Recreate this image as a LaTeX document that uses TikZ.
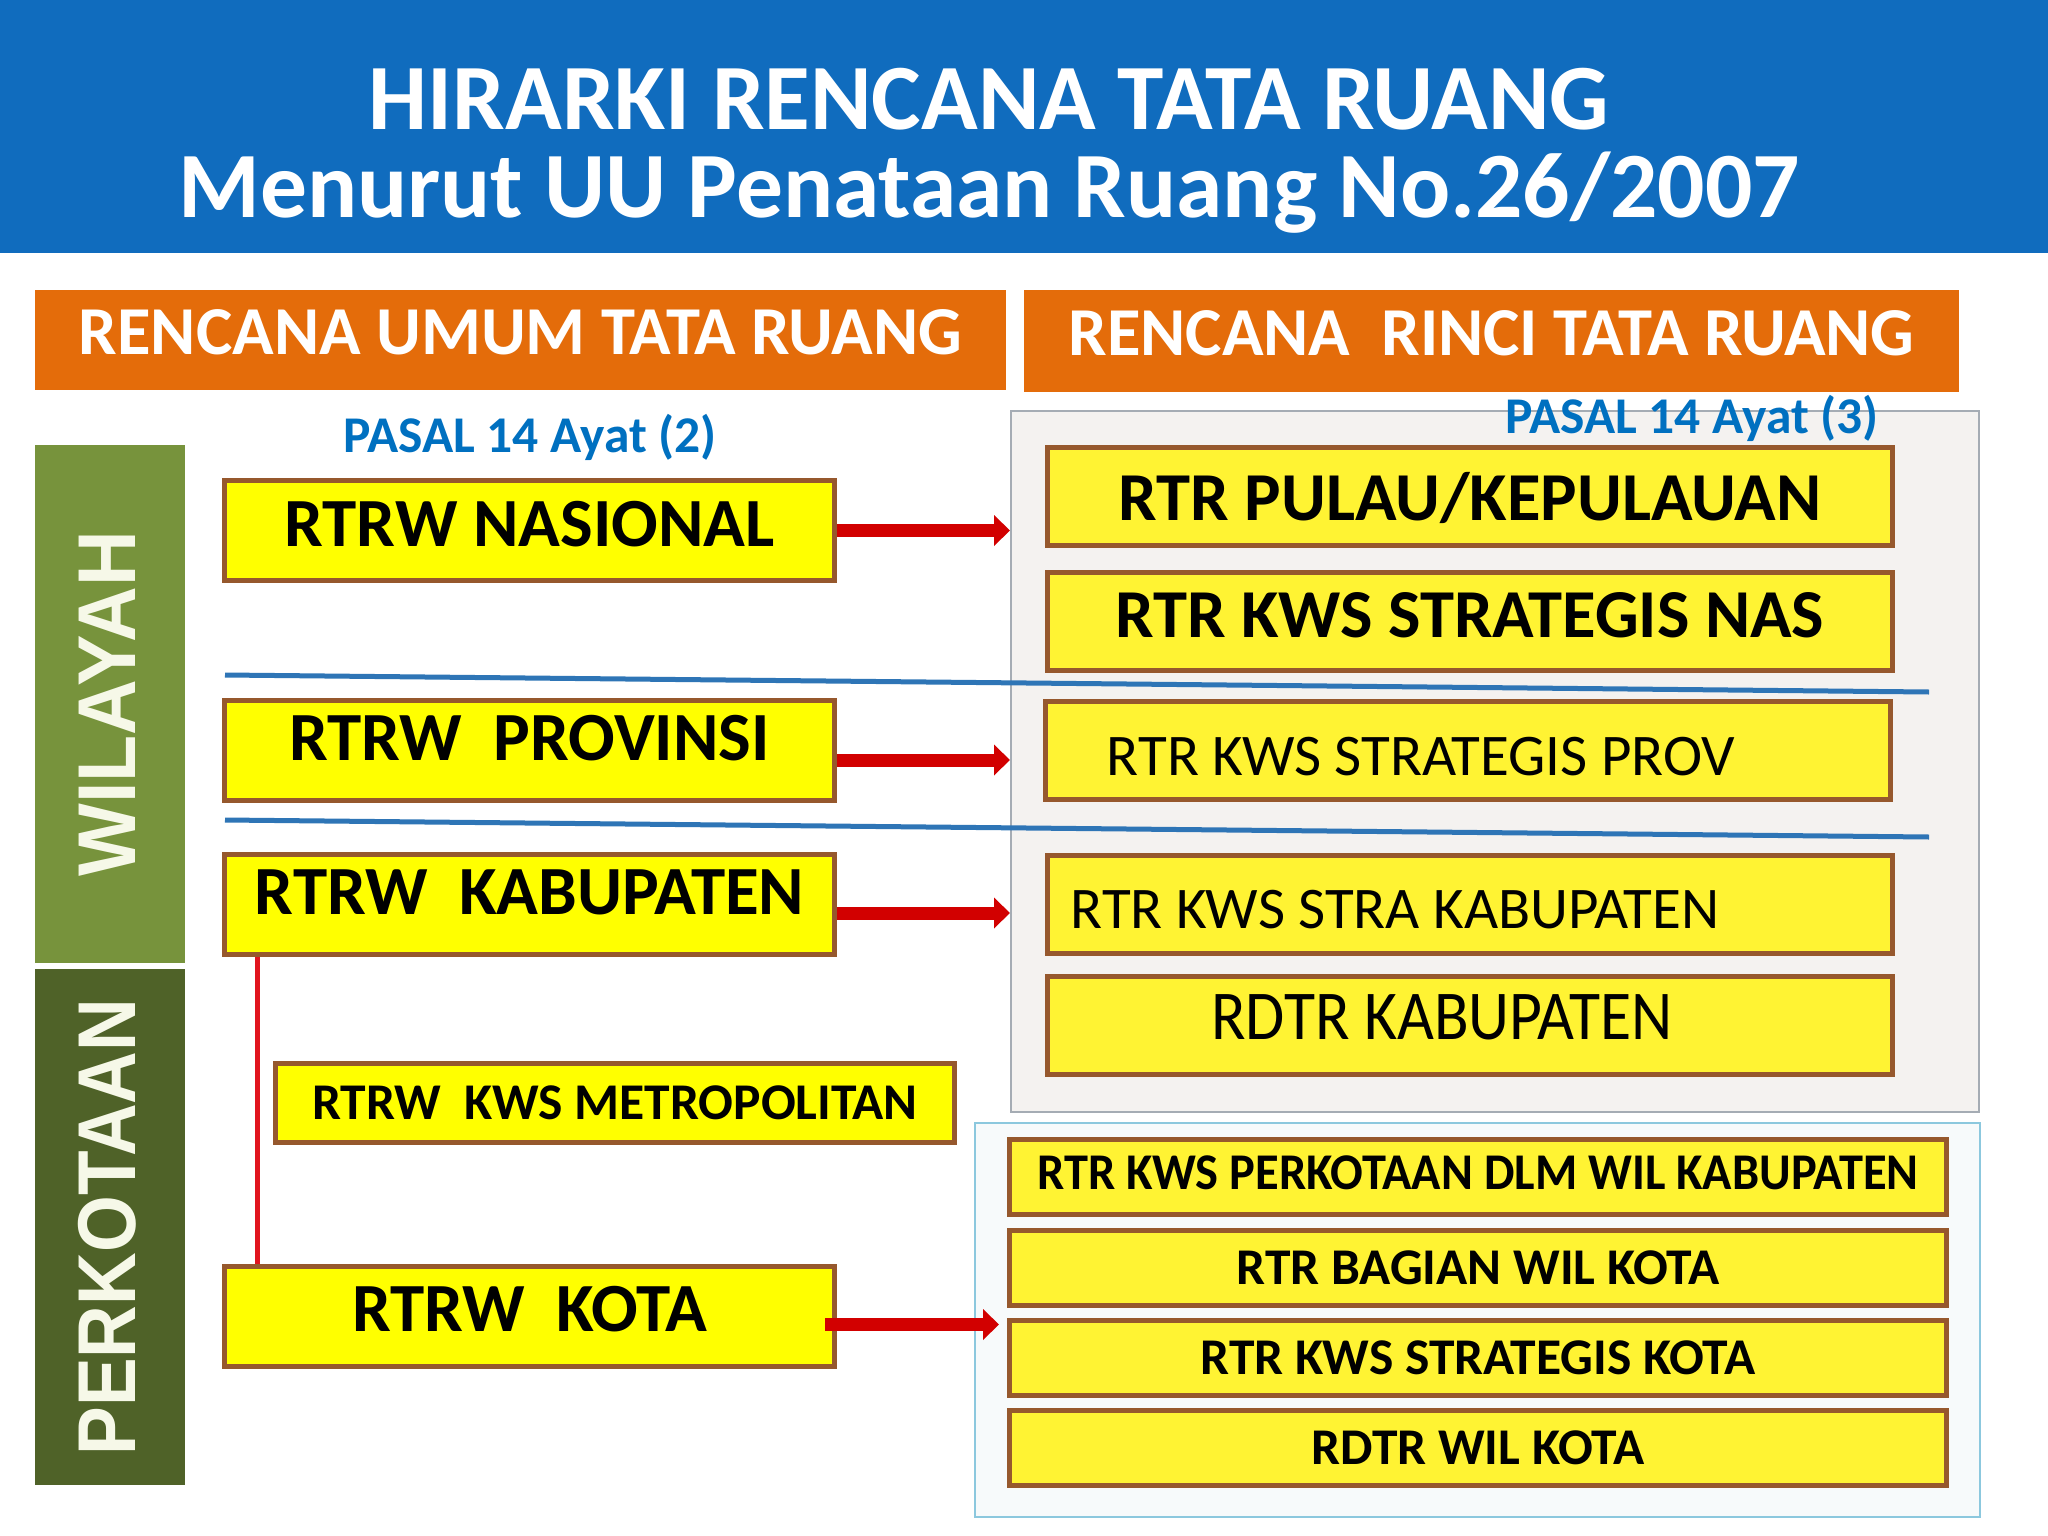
\documentclass[tikz,border=0pt]{standalone}
\usepackage{graphicx}
\usepackage{fontspec}
\setmainfont{Carlito}
\newfontfamily\barfont{Liberation Sans}
\usetikzlibrary{arrows.meta}
\definecolor{bandblue}{RGB}{16,108,190}
\definecolor{hdrorange}{RGB}{228,108,10}
\definecolor{pasalblue}{RGB}{0,112,192}
\definecolor{wilgreen}{RGB}{119,147,60}
\definecolor{kotagreen}{RGB}{79,98,40}
\definecolor{barcream}{RGB}{246,248,232}
\definecolor{boxbrown}{RGB}{150,88,45}
\definecolor{lyellow}{RGB}{255,255,0}
\definecolor{ryellow}{RGB}{255,243,51}
\definecolor{arrowred}{RGB}{210,0,0}
\definecolor{linered}{RGB}{225,20,30}
\definecolor{sepblue}{RGB}{46,117,182}
\definecolor{panelgray}{RGB}{244,242,240}
\definecolor{panelline}{RGB}{165,172,180}
\definecolor{panelblue}{RGB}{247,250,251}
\definecolor{panelcyan}{RGB}{140,200,222}
\newcommand{\fsz}[1]{\fontsize{#1}{#1}\selectfont}

\begin{document}
\begin{tikzpicture}[x=1pt,y=-1pt,
    hdr/.style={fill=hdrorange,text=white,inner sep=0pt,font=\fsz{68.6}\bfseries},
    bar/.style={rotate=90,inner sep=0pt,minimum height=150pt,text=barcream,font=\barfont\fsz{82}\bfseries},
    lbox/.style={draw=boxbrown,line width=5pt,fill=lyellow,inner sep=0pt,minimum width=610pt,minimum height=100pt,font=\fsz{69}\bfseries},
    rbox/.style={draw=boxbrown,line width=5pt,fill=ryellow,inner sep=0pt,minimum width=845pt,minimum height=98pt,font=\fsz{68.6}\bfseries},
    kbox/.style={draw=boxbrown,line width=5pt,fill=ryellow,inner sep=0pt,minimum width=937pt,minimum height=75pt,font=\fsz{51.5}\bfseries},
    rtext/.style={inner sep=0pt,text depth=0pt,font=\fsz{59}},
    ayat/.style={text=pasalblue,inner sep=0pt,text depth=0pt,font=\fsz{51.5}\bfseries},
    fatarrow/.style={draw=arrowred,line width=13pt,-{Triangle[length=16pt,width=30pt]}},
    sepline/.style={draw=sepblue,line width=5pt},
    redline/.style={draw=linered,line width=5pt}]
\useasboundingbox (0,0) rectangle (2048,1536);
\fill[white] (0,0) rectangle (2048,1536);
\node[fill=bandblue,minimum width=2048pt,minimum height=253pt,inner sep=0pt] (band) at (1024,126.5) {};
\node[anchor=base,text=white,font=\fsz{93.5}\bfseries] (ttl1) at (989,130) {HIRARKI RENCANA TATA RUANG};
\node[anchor=base,text=white,font=\fsz{93.5}\bfseries] (ttl2) at (989,217) {Menurut UU Penataan Ruang No.26/2007};
\node[hdr,minimum width=971pt,minimum height=100pt,text depth=15pt] (umum) at (520.5,339.5) {RENCANA UMUM TATA RUANG};
\node[hdr,minimum width=935pt,minimum height=102pt,text depth=16pt] (rinci) at (1491.5,341) {RENCANA~~RINCI TATA RUANG};
\node[draw=panelline,line width=2pt,fill=panelgray,minimum width=968pt,minimum height=701pt,inner sep=0pt] (grayp) at (1495,761.5) {};
\node[draw=panelcyan,line width=2pt,fill=panelblue,minimum width=1005pt,minimum height=394pt,inner sep=0pt] (bluep) at (1477.5,1320) {};
\node[ayat] (ayat2) at (530,433) {PASAL 14 Ayat (2)};
\node[ayat] (ayat3) at (1692,414) {PASAL 14 Ayat (3)};
\coordinate (s1a) at (225,675); \coordinate (s1b) at (1929,692);
\coordinate (s2a) at (225,820); \coordinate (s2b) at (1929,837);
\draw[sepline] (s1a) -- (s1b);
\draw[sepline] (s2a) -- (s2b);
\node[bar,fill=wilgreen,minimum width=518pt,text depth=6pt] (wil) at (110,704) {\scalebox{0.94}[1]{WILAYAH}};
\node[bar,fill=kotagreen,minimum width=516pt,text depth=6pt] (perk) at (110,1227) {\scalebox{0.89}[1]{PERKOTAAN}};
\node[lbox,text depth=13pt] (nas) at (529.5,530.5) {RTRW NASIONAL};
\node[lbox,text depth=24pt] (prov) at (529.5,750) {RTRW~~PROVINSI};
\node[lbox,text depth=25pt] (kab) at (529.5,904.5) {RTRW~~KABUPATEN};
\node[lbox,minimum width=679pt,minimum height=79pt,font=\fsz{51.5}\bfseries] (metro) at (615,1103) {RTRW~~KWS METROPOLITAN};
\node[lbox,text depth=15pt] (kota) at (529.5,1316.5) {RTRW~~KOTA};
\draw[redline] ([xshift=35pt]kab.south west) -- ([xshift=35pt]kota.north west);
\node[rbox,text depth=0pt] (pulau) at (1470,496) {RTR PULAU/KEPULAUAN};
\node[rbox,text depth=13pt] (snas) at (1470,621.5) {RTR KWS STRATEGIS NAS};
\node[rbox,label={[rtext,xshift=-47pt,yshift=-5.5pt]center:RTR KWS STRATEGIS PROV}] (sprov) at (1468,750.5) {};
\node[rbox,label={[rtext,xshift=-75pt,yshift=-4.5pt]center:RTR KWS STRA KABUPATEN}] (skab) at (1470,904.5) {};
\node[rbox,label={[rtext,font=\fsz{70},xshift=-28pt,yshift=8pt]center:\scalebox{0.91}[1]{RDTR KABUPATEN}}] (rdkab) at (1470,1025) {};
\node[kbox,text depth=7pt] (dlm) at (1478,1176.5) {\scalebox{0.94}[1]{RTR KWS PERKOTAAN DLM WIL KABUPATEN}};
\node[kbox] (bag) at (1478,1267.5) {RTR BAGIAN WIL KOTA};
\node[kbox] (skota) at (1478,1357.5) {RTR KWS STRATEGIS KOTA};
\node[kbox] (rdwil) at (1478,1448) {RDTR WIL KOTA};
\draw[fatarrow] (nas.east) -- (nas.east -| grayp.west);
\draw[fatarrow] ([yshift=-10pt]prov.east) -- ([yshift=-10pt]prov.east -| grayp.west);
\draw[fatarrow] ([yshift=-8.5pt]kab.east) -- ([yshift=-8.5pt]kab.east -| grayp.west);
\draw[fatarrow,shorten >=8pt] ([xshift=-12pt,yshift=-8pt]kota.east) -- ([yshift=-8pt]kota.east -| dlm.west);
\end{tikzpicture}
\end{document}
